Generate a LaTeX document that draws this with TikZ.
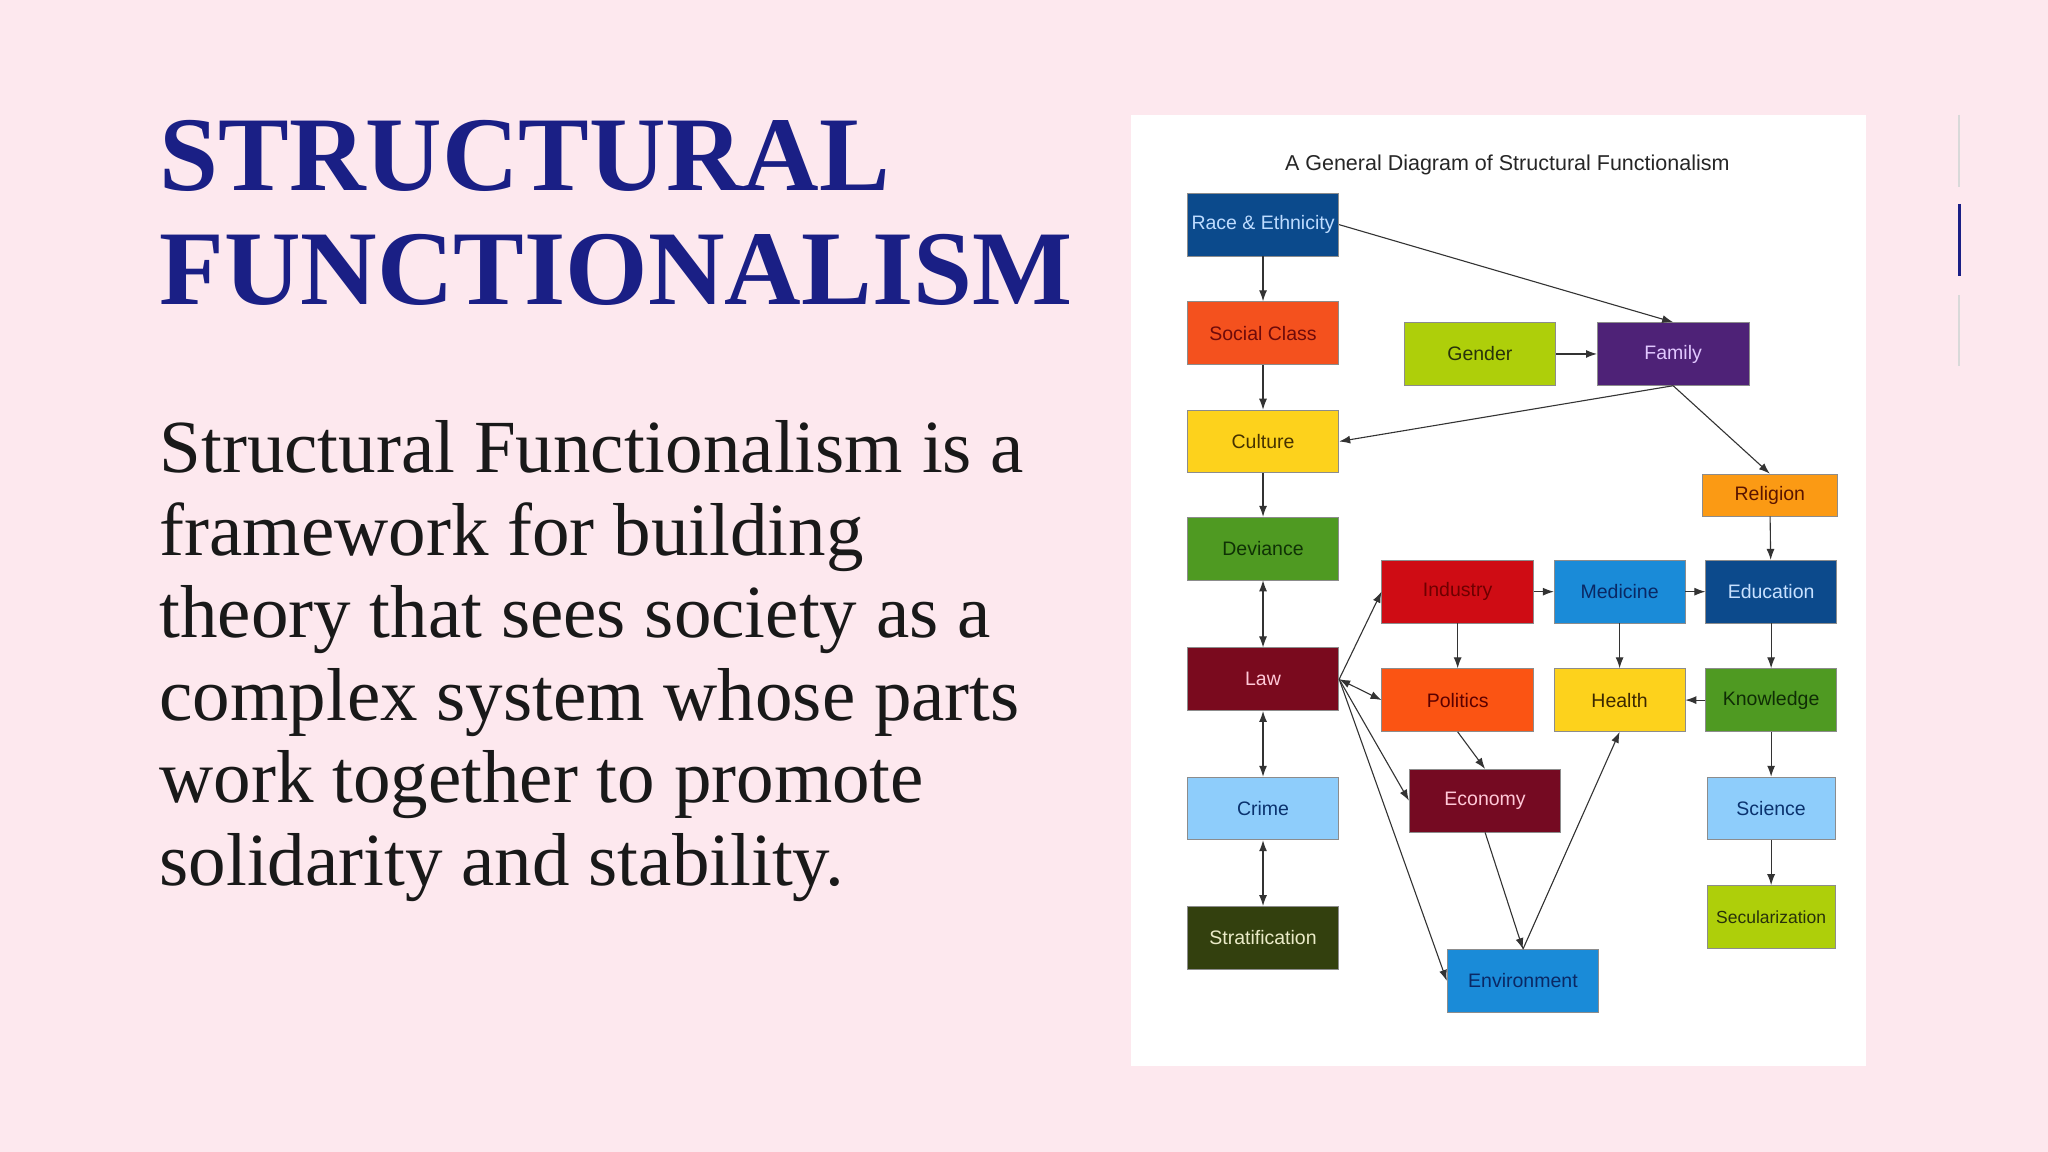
\documentclass[tikz,border=0pt]{standalone}
\usepackage{fontspec}
\setmainfont{Liberation Serif}
\newfontfamily\diafont{Liberation Sans}
\usetikzlibrary{arrows.meta}
\definecolor{bgpink}{HTML}{FDE8EE}
\definecolor{navy}{HTML}{1A1F85}
\tikzset{
 box/.style={draw=black!45, line width=0.8pt, minimum width=116*1.3061pt, minimum height=48*1.3061pt, inner sep=0pt, font=\diafont\fontsize{19.5}{21}\selectfont},
 conn/.style={draw=black!80, line width=1.1pt, -{Latex[length=11pt,width=8pt]}},
 bconn/.style={draw=black!80, line width=1.1pt, {Latex[length=11pt,width=8pt]}-{Latex[length=11pt,width=8pt]}},
}
\begin{document}
\begin{tikzpicture}[x=1.3061pt,y=-1.3061pt]
\fill[bgpink] (0,0) rectangle (1568,882);
\useasboundingbox (0,0) rectangle (1568,882);
% left title
\node[anchor=base west, text=navy, font=\fontsize{106}{110}\selectfont\bfseries, inner sep=0pt] (t1) at (122,146) {STRUCTURAL};
\node[anchor=base west, text=navy, font=\fontsize{106}{110}\selectfont\bfseries, inner sep=0pt] (t2) at (122,233) {FUNCTIONALISM};
\node[anchor=north west, align=left, inner sep=0pt, text=black!90, font=\fontsize{75}{82.5}\selectfont] (body) at (122,322) {Structural Functionalism is a\\framework for building\\theory that sees society as a\\complex system whose parts\\work together to promote\\solidarity and stability.};
% side markers
\draw[black!15, line width=1.5pt] (1500,88) -- (1500,143);
\draw[navy, line width=3pt] (1500,156) -- (1500,211);
\draw[black!15, line width=1.5pt] (1500,226) -- (1500,280);
% panel
\fill[white] (866,88) rectangle (1429,816);
\node[font=\diafont\fontsize{21.5}{23}\selectfont, text=black!85] (ttl) at (1154,126) {A General Diagram of Structural Functionalism};
% nodes
\node[box, fill={rgb,255:red,11;green,74;blue,140}, text={rgb,255:red,190;green,220;blue,255}] (race) at (967,172) {Race \& Ethnicity};
\node[box, fill={rgb,255:red,244;green,81;blue,30}, text={rgb,255:red,110;green,10;blue,10}] (soc) at (967,255) {Social Class};
\node[box, fill={rgb,255:red,253;green,210;blue,28}, text={rgb,255:red,70;green,50;blue,0}] (cult) at (967,338) {Culture};
\node[box, fill={rgb,255:red,79;green,154;blue,34}, text={rgb,255:red,15;green,50;blue,5}] (dev) at (967,420) {Deviance};
\node[box, fill={rgb,255:red,122;green,10;blue,30}, text={rgb,255:red,255;green,200;blue,215}] (law) at (967,520) {Law};
\node[box, fill={rgb,255:red,142;green,205;blue,251}, text={rgb,255:red,10;green,50;blue,110}] (crime) at (967,619) {Crime};
\node[box, fill={rgb,255:red,51;green,64;blue,14}, text={rgb,255:red,235;green,235;blue,200}] (strat) at (967,718) {Stratification};
\node[box, fill={rgb,255:red,174;green,207;blue,10}, text={rgb,255:red,40;green,50;blue,10}] (gender) at (1133,271) {Gender};
\node[box, fill={rgb,255:red,78;green,34;blue,119}, text={rgb,255:red,225;green,200;blue,255}] (fam) at (1281,271) {Family};
\node[box, minimum width=103*1.3061pt, minimum height=32*1.3061pt, fill={rgb,255:red,251;green,154;blue,20}, text={rgb,255:red,90;green,20;blue,0}] (rel) at (1355,379) {Religion};
\node[box, fill={rgb,255:red,207;green,12;blue,20}, text={rgb,255:red,110;green,0;blue,0}] (ind) at (1116,453) {Industry};
\node[box, minimum width=100*1.3061pt, fill={rgb,255:red,26;green,139;blue,216}, text={rgb,255:red,10;green,40;blue,100}] (med) at (1240,453) {Medicine};
\node[box, minimum width=100*1.3061pt, fill={rgb,255:red,12;green,74;blue,140}, text={rgb,255:red,200;green,225;blue,255}] (edu) at (1356,453) {Education};
\node[box, fill={rgb,255:red,251;green,84;blue,19}, text={rgb,255:red,90;green,0;blue,0}] (pol) at (1116,536) {Politics};
\node[box, minimum width=100*1.3061pt, fill={rgb,255:red,253;green,210;blue,28}, text={rgb,255:red,60;green,40;blue,0}] (hea) at (1240,536) {Health};
\node[box, minimum width=100*1.3061pt, fill={rgb,255:red,79;green,154;blue,34}, text={rgb,255:red,15;green,45;blue,5}] (know) at (1356,536) {Knowledge};
\node[box, fill={rgb,255:red,117;green,10;blue,34}, text={rgb,255:red,255;green,200;blue,215}] (eco) at (1137,613) {Economy};
\node[box, minimum width=98*1.3061pt, fill={rgb,255:red,142;green,205;blue,251}, text={rgb,255:red,10;green,50;blue,110}] (sci) at (1356,619) {Science};
\node[box, minimum width=98*1.3061pt, fill={rgb,255:red,174;green,207;blue,10}, text={rgb,255:red,40;green,50;blue,10}, font=\diafont\fontsize{17.5}{19}\selectfont] (sec) at (1356,702) {Secularization};
\node[box, fill={rgb,255:red,26;green,139;blue,216}, text={rgb,255:red,10;green,40;blue,100}] (env) at (1166,751) {Environment};
% edges
\draw[conn] (race) -- (soc);
\draw[conn] (soc) -- (cult);
\draw[conn] (cult) -- (dev);
\draw[bconn] (dev) -- (law);
\draw[bconn] (law) -- (crime);
\draw[bconn] (crime) -- (strat);
\draw[conn] (race.east) -- (fam.north);
\draw[conn] (gender) -- (fam);
\draw[conn] (fam.south) -- (cult.east);
\draw[conn] (fam.south) -- (rel.north);
\draw[conn] (rel) -- (edu);
\draw[conn] (ind) -- (med);
\draw[conn] (med) -- (edu);
\draw[conn] (ind) -- (pol);
\draw[conn] (med) -- (hea);
\draw[conn] (edu) -- (know);
\draw[conn] (know) -- (hea);
\draw[conn] (know) -- (sci);
\draw[conn] (sci) -- (sec);
\draw[conn] (law.east) -- (ind.west);
\draw[bconn] (law.east) -- (pol.west);
\draw[conn] (law.east) -- (eco.west);
\draw[conn] (law.east) -- (env.west);
\draw[conn] (pol.south) -- (eco.north);
\draw[conn] (eco.south) -- (env.north);
\draw[conn] (env.north) -- (hea.south);
\end{tikzpicture}
\end{document}
